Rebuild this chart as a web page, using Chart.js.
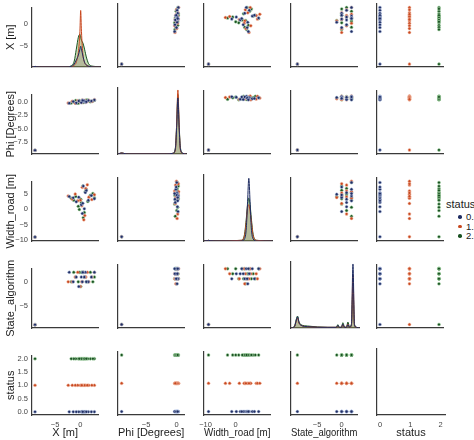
<!DOCTYPE html>
<html>
<head>
<meta charset="utf-8">
<script src="https://cdn.jsdelivr.net/npm/chart.js@4.4.0/dist/chart.umd.min.js"></script>
<style>
  body { margin: 0; background: #fff; width: 474px; height: 440px; overflow: hidden; position: relative;
         font-family: "Liberation Sans", Arial, sans-serif; }
  canvas { position: absolute; }
  #legend { position: absolute; left: 446px; top: 198px; color: #222; white-space: nowrap; }
  #legend .lt { font-size: 11px; height: 14px; }
  #legend .li { font-size: 9.5px; height: 9.5px; line-height: 9.5px; position: relative; padding-left: 20px; }
  #legend .dot { position: absolute; left: 12px; top: 3px; width: 3.5px; height: 3.5px; border-radius: 50%; }
</style>
</head>
<body>
<div id="legend"></div>
<script>
// one row per sample: X, Phi, Width_road, State_algorithm, status
const xM = [
  2.8, 2.2, 1.6, 1.0, 0.6, 0.4, 0.2, -0.3, -0.8, -1.4, -2.2, 0.8, 1.2, 0.5,
  2.8, 2.3, 1.7, 1.1, 0.7, 0.4, 0.0, -0.5, -1.0, -1.6, -2.4, 0.9, 1.4, 0.3,
  2.8, 2.0, 1.5, 1.0, 0.6, 0.5, 0.1, -0.4, -0.9, -1.3, -1.8, 0.8, 1.2, 0.2, 2.5, -0.2,
  -9, -9, -9
];
const phiDeg = [
  0.3, 0.1, 0.2, -0.1, 0.05, 0.25, -0.2, 0.1, -0.25, 0.0, -0.3, 0.15, -0.05, 0.2,
  0.35, 0.0, 0.25, -0.15, 0.1, 0.3, -0.1, 0.15, -0.3, 0.05, -0.25, 0.2, 0.0, -0.2,
  0.25, -0.05, 0.3, 0.1, -0.2, 0.15, 0.0, -0.3, 0.2, -0.1, -0.25, 0.05, 0.3, -0.15, 0.1, 0.2,
  -9, -9, -9
];
const widthRoad = [
  3.5, 4.5, 3.0, 5.5, 7.6, -1.3, 1.5, 4.0, 2.5, 3.8, 4.2, 0.2, 6.2, 2.0,
  4.8, 3.2, 4.0, 6.8, -3.4, 7.2, 3.0, 2.8, 5.0, 3.4, 4.4, -2.0, 8.0, 1.2,
  3.8, 4.6, 2.6, 5.8, -2.7, 7.6, 3.3, 1.0, 4.2, 3.0, 3.6, -1.0, 6.5, 2.2, 5.2, 0.0,
  -9, -9, -9
];
const stateAlg = [
  2, 1, 0, 2, 2, 0, 1, -1, 1, 0, 2, 1, 0, 2,
  2, 1, 0, 1, 2, 0, -1, 2, 1, 0, 0, 1, 2, 0,
  1, 2, 0, 1, 2, 2, -1, 0, 1, 2, 0, 1, 0, 2, 0, 2,
  -9, -9, -9
];
const status = [
  0, 0, 0, 0, 0, 0, 0, 0, 0, 0, 0, 0, 0, 0,
  1, 1, 1, 1, 1, 1, 1, 1, 1, 1, 1, 1, 1, 1,
  2, 2, 2, 2, 2, 2, 2, 2, 2, 2, 2, 2, 2, 2, 2, 2,
  0, 1, 2
];

const varNames = ['X [m]', 'Phi [Degrees]', 'Width_road [m]', 'State_algorithm', 'status'];
const hueLevels = [0, 1, 2];
const hueLabels = ['0.0', '1.0', '2.0'];

// tick values / labels, rows (y) and columns (x)
const yTickVals = [[-5, 0], [-7.5, -5, -2.5, 0], [-10, -5, 0, 5], [-5, 0], [0, 0.5, 1, 1.5, 2]];
const yTickLabels = [['−5', '0'], ['−7.5', '−5.0', '−2.5', '0.0'], ['−10', '−5', '0', '5'], ['−5', '0'],
                     ['0.0', '0.5', '1.0', '1.5', '2.0']];
const xTickVals = [[-5, 0], [-5, 0], [-10, 0], [-5, 0], [0, 1, 2]];
const xTickLabels = [['−5', '0'], ['−5', '0'], ['−10', '0'], ['−5', '0'], ['0', '1', '2']];

// axis limits
const rowMin = [-9.6, -9.7, -10.3, -9.7, -0.12];
const rowMax = [3.6, 1.3, 9.1, 2.8, 2.12];
const colMin = [-9.6, -9.6, -10.5, -10.3, -0.1];
const colMax = [3.6, 1.3, 11.5, 3.2, 2.15];

// diagonal density curves (relative height)
const kdeGrid = [
  [-9.6, -9.3, -9.0, -8.7, -8.0, -3.0, -2.0, -1.4, -1.0, -0.6, -0.3, -0.15, 0.0, 0.3, 0.6, 1.0, 1.5, 2.5, 3.6],
  [-9.6, -9.3, -9.0, -8.7, -8.0, -2.0, -0.8, -0.4, -0.2, 0.0, 0.2, 0.4, 0.8, 1.3],
  [-10.5, -9.5, -9.0, -8.5, -7.0, 1.5, 2.6, 3.2, 3.6, 4.0, 4.4, 4.8, 5.4, 6.5, 11.5],
  [-10.3, -9.6, -9.3, -9.0, -8.7, -8.3, -7.0, -3.0, -1.3, -1.0, -0.7, -0.3, 0.0, 0.3, 0.7, 1.0, 1.3, 1.7, 2.0, 2.3, 2.7, 3.2]
];
const kdeStatus0 = [
  [0, 0.005, 0.01, 0.005, 0, 0, 0.01, 0.05, 0.12, 0.2, 0.3, 0.35, 0.3, 0.18, 0.08, 0.03, 0.01, 0, 0],
  [0, 0.01, 0.015, 0.01, 0, 0, 0.01, 0.08, 0.4, 0.85, 0.4, 0.08, 0.01, 0],
  [0, 0.005, 0.01, 0.005, 0, 0, 0.03, 0.2, 0.6, 0.95, 0.6, 0.2, 0.03, 0, 0],
  [0, 0.02, 0.1, 0.17, 0.08, 0.04, 0.02, 0.01, 0.01, 0.04, 0.01, 0.01, 0.06, 0.01, 0.01, 0.05, 0.01, 0.05, 0.97, 0.05, 0.01, 0]
];
const kdeStatus1 = [
  [0, 0.005, 0.01, 0.005, 0, 0, 0.005, 0.03, 0.08, 0.25, 0.6, 0.95, 0.6, 0.2, 0.08, 0.03, 0.01, 0, 0],
  [0, 0.01, 0.015, 0.01, 0, 0, 0.01, 0.06, 0.45, 0.97, 0.45, 0.06, 0.01, 0],
  [0, 0.005, 0.01, 0.005, 0, 0.01, 0.08, 0.3, 0.5, 0.55, 0.45, 0.3, 0.08, 0.01, 0],
  [0, 0.02, 0.09, 0.15, 0.07, 0.04, 0.02, 0.01, 0.01, 0.03, 0.01, 0.01, 0.05, 0.01, 0.01, 0.06, 0.01, 0.04, 0.8, 0.04, 0.01, 0]
];
const kdeStatus2 = [
  [0, 0.005, 0.01, 0.005, 0, 0, 0.02, 0.1, 0.3, 0.5, 0.55, 0.5, 0.45, 0.4, 0.3, 0.15, 0.04, 0.01, 0],
  [0, 0.01, 0.015, 0.01, 0, 0, 0.01, 0.1, 0.45, 0.9, 0.45, 0.1, 0.01, 0],
  [0, 0.005, 0.01, 0.005, 0, 0.01, 0.1, 0.35, 0.55, 0.65, 0.55, 0.35, 0.1, 0.01, 0],
  [0, 0.03, 0.12, 0.18, 0.09, 0.05, 0.03, 0.01, 0.01, 0.05, 0.01, 0.01, 0.08, 0.02, 0.01, 0.09, 0.02, 0.06, 0.6, 0.06, 0.01, 0]
];

const vars = [xM, phiDeg, widthRoad, stateAlg, status];
const kdes = [kdeStatus0, kdeStatus1, kdeStatus2];

const hueColors = ['#1f2d62', '#c8481f', '#1a5222'];
const hueEdge = ['rgba(190,205,235,0.9)', 'rgba(245,200,180,0.9)', 'rgba(180,225,180,0.9)'];
const hueFill = ['rgba(37,52,110,0.1)', 'rgba(200,72,31,0.14)', 'rgba(120,180,80,0.42)'];

const colLeft = [32, 118, 204, 291, 377];
const rowTop = [1, 88, 175, 262, 349];
const cellW = 68, cellH = 66;
const PAD_L = 32, PAD_T = 2, PAD_R = 3, PAD_B = 25;
const FONT = '"Liberation Sans", Arial, sans-serif';
const spine = { display: true, color: '#3a3a3a', width: 1.2 };

// legend
const legend = document.getElementById('legend');
legend.innerHTML = '<div class="lt">status</div>' + hueLevels.map((h, i) =>
  `<div class="li"><span class="dot" style="background:${hueColors[i]}"></span>${hueLabels[i]}</div>`).join('');

function axis(min, max, ticks, labels, showTicks, title, isX) {
  return {
    type: 'linear', min, max,
    grid: { display: false, drawTicks: false },
    border: spine,
    afterBuildTicks: s => { s.ticks = ticks.map(v => ({ value: v })); },
    afterFit: s => { if (isX) s.height = PAD_B; else s.width = PAD_L; },
    ticks: {
      display: showTicks, padding: isX ? 5 : 4, color: '#444', maxRotation: 0,
      font: { size: 7.5, family: FONT },
      callback: (v, i) => labels[i]
    },
    title: {
      display: showTicks, text: title, color: '#222', padding: isX ? { top: 0, bottom: 0 } : { top: 4, bottom: 0 },
      font: { size: 11, family: FONT }
    }
  };
}

function makeCell(r, c) {
  const cv = document.createElement('canvas');
  const w = cellW + PAD_L + PAD_R, h = cellH + PAD_T + PAD_B;
  cv.width = w; cv.height = h;
  cv.style.left = (colLeft[c] - PAD_L) + 'px';
  cv.style.top = (rowTop[r] - PAD_T) + 'px';
  cv.style.width = w + 'px'; cv.style.height = h + 'px';
  document.body.appendChild(cv);

  const scales = {
    x: axis(colMin[c], colMax[c], xTickVals[c], xTickLabels[c], r === 4, varNames[c], true),
    y: axis(rowMin[r], rowMax[r], yTickVals[r], yTickLabels[r], c === 0, varNames[r], false)
  };
  let datasets = [];
  if (r === c) {
    scales.yd = { display: false, min: 0, max: 1 };
    if (r < 4) {
      datasets = hueLevels.map((hl, i) => ({
        data: kdeGrid[r].map((x, k) => ({ x, y: kdes[i][r][k] })),
        yAxisID: 'yd', showLine: true, pointRadius: 0, borderWidth: 1,
        borderColor: hueColors[i], backgroundColor: hueFill[i], fill: 'origin',
        cubicInterpolationMode: 'monotone'
      }));
    }
  } else {
    datasets = hueLevels.map((hl, i) => ({
      data: status.map((s, k) => s === hl ? { x: vars[c][k], y: vars[r][k] } : null).filter(p => p),
      pointRadius: 1.5, pointBorderWidth: 0.6,
      pointBackgroundColor: hueColors[i], pointBorderColor: hueEdge[i], clip: 4
    }));
  }

  new Chart(cv, {
    type: 'scatter',
    data: { datasets },
    options: {
      responsive: false, animation: false, devicePixelRatio: 1,
      layout: { padding: { top: PAD_T, right: PAD_R, left: 0, bottom: 0 } },
      plugins: { legend: { display: false }, tooltip: { enabled: false } },
      scales
    }
  });
}

for (let r = 0; r < 5; r++) {
  for (let c = 0; c < 5; c++) makeCell(r, c);
}
</script>
</body>
</html>
